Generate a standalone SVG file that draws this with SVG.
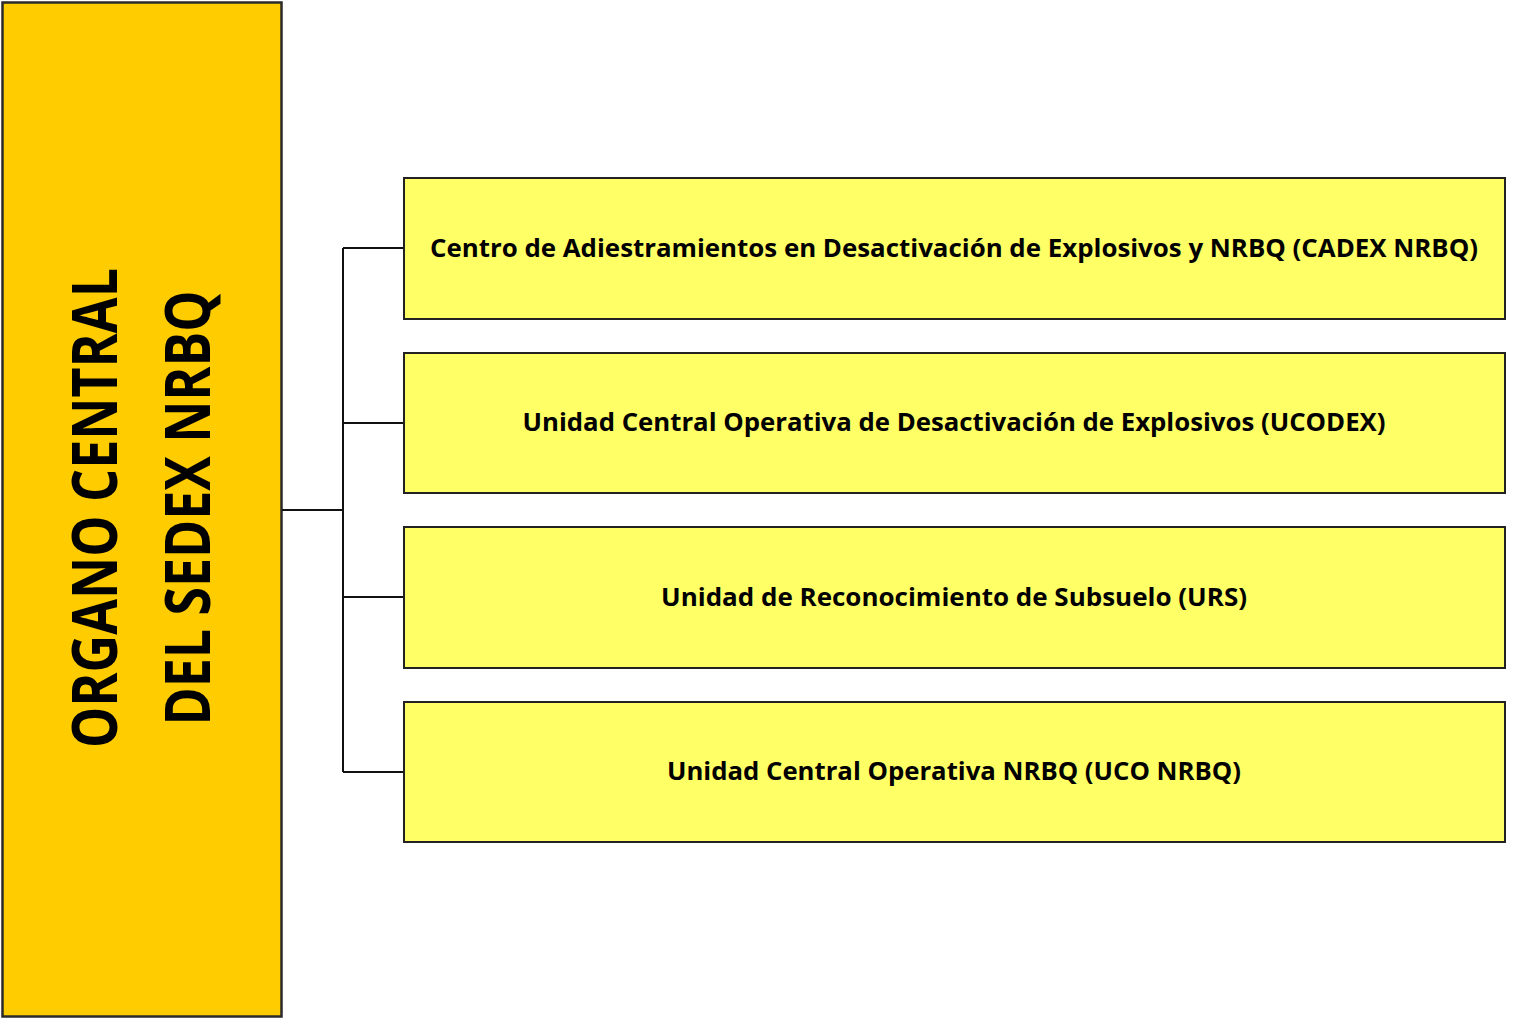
<svg xmlns="http://www.w3.org/2000/svg" width="1536" height="1019" viewBox="0 0 1536 1019">
<style>
.box{fill:#FFFF66;stroke:#222;stroke-width:2}
.main{fill:#FFCC00;stroke:#2a2a2a;stroke-width:2.5}
.lbl{font-family:"Open Sans","Noto Sans",sans-serif;font-weight:bold;font-size:25px;fill:#000;text-anchor:middle}
.big{font-family:"Open Sans","Noto Sans",sans-serif;font-weight:bold;font-size:62px;fill:#000;text-anchor:middle}
.conn{fill:none;stroke:#111;stroke-width:2}
</style>
<rect width="1536" height="1019" fill="#fff"/>
<g id="organo">
<rect class="main" x="2.5" y="2.5" width="279" height="1014"/>
<text class="big" transform="translate(117 508) rotate(-90)" textLength="480" lengthAdjust="spacingAndGlyphs">ORGANO CENTRAL</text>
<text class="big" transform="translate(210 508) rotate(-90)" textLength="435" lengthAdjust="spacingAndGlyphs">DEL SEDEX NRBQ</text>
</g>
<g id="connectors">
<path class="conn" d="M282 510H343M343 248V772M343 248H404M343 423H404M343 597H404M343 772H404"/>
</g>
<g id="cadex">
<rect class="box" x="404" y="178" width="1101" height="141"/>
<text class="lbl" x="954" y="257" textLength="1048" lengthAdjust="spacingAndGlyphs">Centro de Adiestramientos en Desactivación de Explosivos y NRBQ (CADEX NRBQ)</text>
</g>
<g id="ucodex">
<rect class="box" x="404" y="353" width="1101" height="140"/>
<text class="lbl" x="954" y="431" textLength="863" lengthAdjust="spacingAndGlyphs">Unidad Central Operativa de Desactivación de Explosivos (UCODEX)</text>
</g>
<g id="urs">
<rect class="box" x="404" y="527" width="1101" height="141"/>
<text class="lbl" x="954" y="606" textLength="586" lengthAdjust="spacingAndGlyphs">Unidad de Reconocimiento de Subsuelo (URS)</text>
</g>
<g id="uconrbq">
<rect class="box" x="404" y="702" width="1101" height="140"/>
<text class="lbl" x="954" y="780" textLength="574" lengthAdjust="spacingAndGlyphs">Unidad Central Operativa NRBQ (UCO NRBQ)</text>
</g>
</svg>
